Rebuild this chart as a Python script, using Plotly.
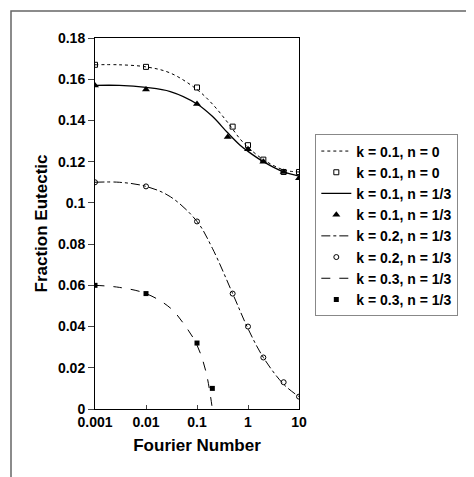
import plotly.graph_objects as go

# marker data
x_a = [0.001, 0.01, 0.1, 0.5, 1, 2, 5, 10]
y_a = [0.167, 0.166, 0.156, 0.137, 0.128, 0.121, 0.115, 0.115]
x_b = [0.001, 0.01, 0.1, 0.4, 1, 2, 5, 10]
y_b = [0.157, 0.155, 0.148, 0.132, 0.126, 0.120, 0.115, 0.112]
x_c = [0.001, 0.01, 0.1, 0.5, 1, 2, 5, 10]
y_c = [0.110, 0.108, 0.091, 0.056, 0.040, 0.025, 0.013, 0.006]
x_d = [0.001, 0.01, 0.1, 0.2]
y_d = [0.060, 0.056, 0.032, 0.010]

# curve data
lx_a = [0.001, 0.003, 0.01, 0.03, 0.1, 0.2, 0.4, 0.7, 1, 2, 5, 10]
ly_a = [0.167, 0.167, 0.166, 0.163, 0.155, 0.148, 0.139, 0.131, 0.127, 0.121, 0.116, 0.115]
lx_b = [0.001, 0.003, 0.01, 0.03, 0.1, 0.2, 0.4, 0.7, 1, 2, 5, 10]
ly_b = [0.157, 0.157, 0.156, 0.154, 0.148, 0.142, 0.134, 0.128, 0.125, 0.120, 0.115, 0.113]
lx_c = [0.001, 0.003, 0.01, 0.03, 0.1, 0.2, 0.5, 1, 2, 5, 10]
ly_c = [0.110, 0.110, 0.108, 0.103, 0.091, 0.078, 0.056, 0.039, 0.025, 0.012, 0.006]
lx_d = [0.001, 0.003, 0.01, 0.03, 0.06, 0.1, 0.15, 0.2]
ly_d = [0.060, 0.059, 0.056, 0.049, 0.040, 0.031, 0.018, 0.000]

yticks = [0, 0.02, 0.04, 0.06, 0.08, 0.1, 0.12, 0.14, 0.16, 0.18]
ylabels = ["0", "0.02", "0.04", "0.06", "0.08", "0.1", "0.12", "0.14", "0.16", "0.18"]
xticks = [0.001, 0.01, 0.1, 1, 10]
xlabels = ["0.001", "0.01", "0.1", "1", "10"]

fig = go.Figure()
blk = "black"
fig.add_trace(go.Scatter(x=lx_a, y=ly_a, mode="lines", line=dict(color=blk, width=1, dash="dot", shape="spline"), name="k = 0.1, n = 0"))
fig.add_trace(go.Scatter(x=x_a, y=y_a, mode="markers", marker=dict(symbol="square-open", size=5, color=blk), name="k = 0.1, n = 0"))
fig.add_trace(go.Scatter(x=lx_b, y=ly_b, mode="lines", line=dict(color=blk, width=1.3, shape="spline"), name="k = 0.1, n = 1/3"))
fig.add_trace(go.Scatter(x=x_b, y=y_b, mode="markers", marker=dict(symbol="triangle-up", size=7, color=blk), name="k = 0.1, n = 1/3"))
fig.add_trace(go.Scatter(x=lx_c, y=ly_c, mode="lines", line=dict(color=blk, width=1, dash="dashdot", shape="spline"), name="k = 0.2, n = 1/3"))
fig.add_trace(go.Scatter(x=x_c, y=y_c, mode="markers", marker=dict(symbol="circle-open", size=5, color=blk), name="k = 0.2, n = 1/3"))
fig.add_trace(go.Scatter(x=lx_d, y=ly_d, mode="lines", line=dict(color=blk, width=1, dash="dash", shape="spline"), name="k = 0.3, n = 1/3"))
fig.add_trace(go.Scatter(x=x_d, y=y_d, mode="markers", marker=dict(symbol="square", size=5, color=blk), name="k = 0.3, n = 1/3"))

tf = dict(family="Liberation Sans", size=14, color=blk)
fig.update_layout(
    width=474, height=477, margin=dict(l=87, r=183, t=30, b=76),
    paper_bgcolor="white", plot_bgcolor="white", font=tf,
    showlegend=True,
    legend=dict(x=1.08, y=0.74, xanchor="left", yanchor="top", bordercolor="#888", borderwidth=1,
                font=dict(family="Liberation Sans", size=14, color=blk), tracegroupgap=0),
    xaxis=dict(type="log", range=[-3, 1], tickvals=xticks,
               ticktext=["<b>%s</b>" % t for t in xlabels], showgrid=False,
               showline=True, linecolor=blk, mirror=True, ticks="inside", ticklen=4,
               title=dict(text="<b>Fourier Number</b>", standoff=10), tickfont=tf),
    yaxis=dict(range=[0, 0.18], tickvals=yticks,
               ticktext=["<b>%s</b>" % t for t in ylabels], showgrid=False,
               showline=True, linecolor=blk, mirror=True, ticks="outside", ticklen=6,
               title=dict(text="<b>Fraction Eutectic</b>", standoff=6), tickfont=tf),
    shapes=[dict(type="rect", xref="paper", yref="paper",
                 x0=-84 / 204, x1=381 / 204, y0=-71 / 371, y1=1 + 27 / 371,
                 line=dict(color="#666", width=1.5))],
)
for tr in fig.data:
    tr.name = "<b>%s</b>" % tr.name
fig.write_html("out.html")
